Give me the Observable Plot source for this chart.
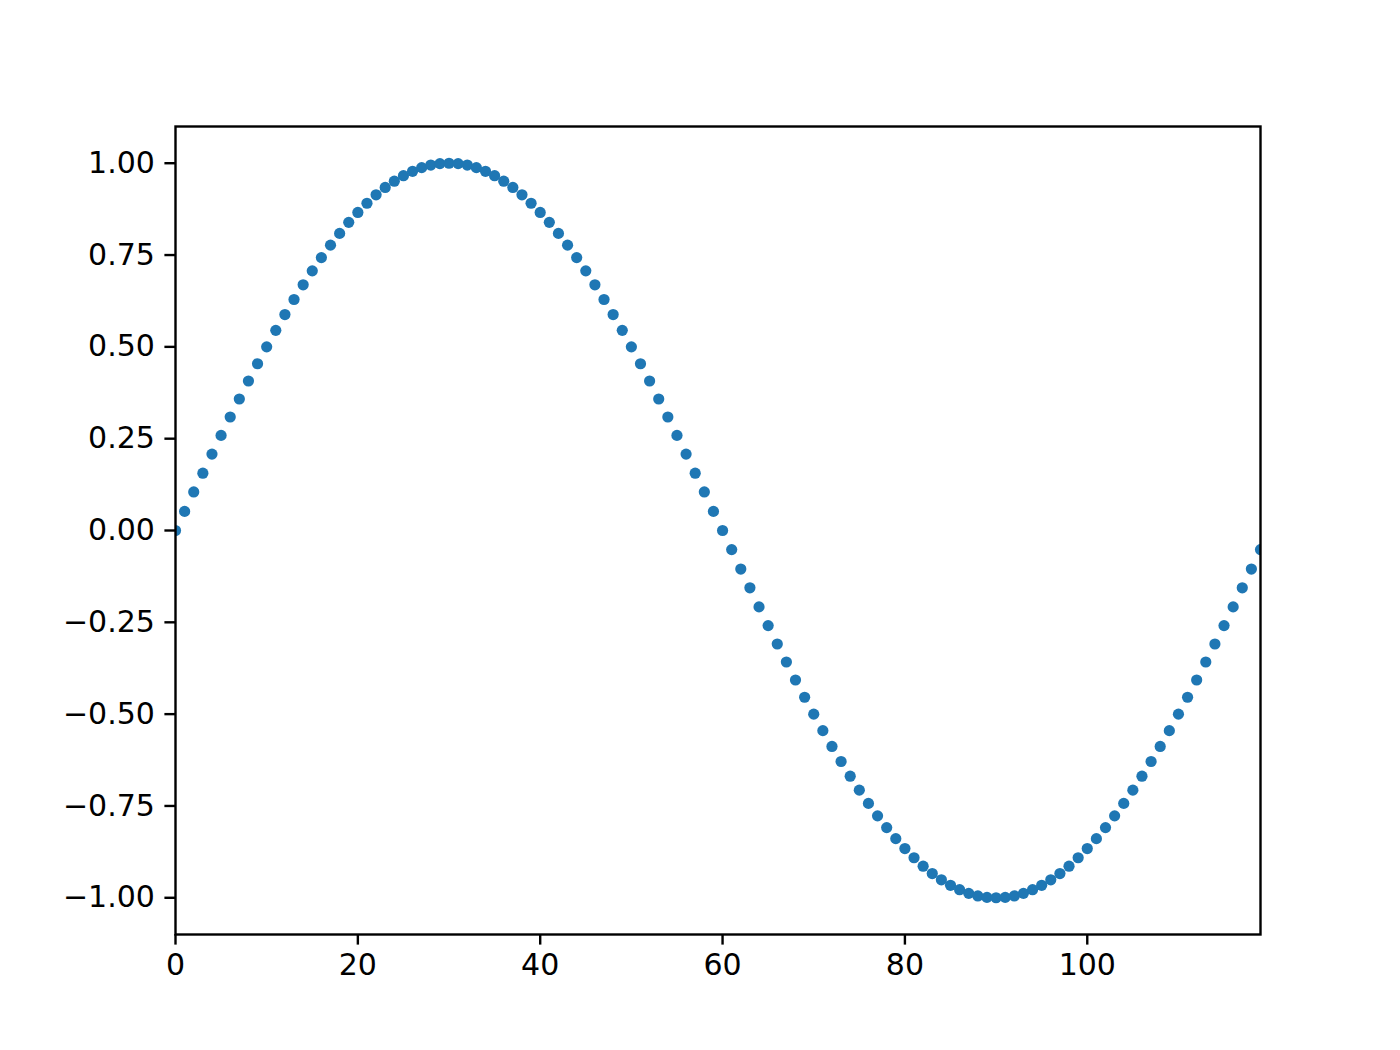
<!DOCTYPE html>
<html>
<head>
<meta charset="utf-8">
<script src="https://cdn.jsdelivr.net/npm/d3@7"></script>
<script src="https://cdn.jsdelivr.net/npm/@observablehq/plot@0.6"></script>
<style>
  html, body { margin: 0; padding: 0; background: #fff; }
  #chart svg { display: block; }
</style>
</head>
<body>
<div id="chart"></div>
<script>
const xValues = d3.range(0, 120);
const yValues = [
  0, 0.052, 0.105, 0.156, 0.208, 0.259, 0.309, 0.358, 0.407, 0.454,
  0.5, 0.545, 0.588, 0.629, 0.669, 0.707, 0.743, 0.777, 0.809, 0.839,
  0.866, 0.891, 0.914, 0.934, 0.951, 0.966, 0.978, 0.988, 0.995, 0.999,
  1, 0.999, 0.995, 0.988, 0.978, 0.966, 0.951, 0.934, 0.914, 0.891,
  0.866, 0.839, 0.809, 0.777, 0.743, 0.707, 0.669, 0.629, 0.588, 0.545,
  0.5, 0.454, 0.407, 0.358, 0.309, 0.259, 0.208, 0.156, 0.105, 0.052,
  0, -0.052, -0.105, -0.156, -0.208, -0.259, -0.309, -0.358, -0.407, -0.454,
  -0.5, -0.545, -0.588, -0.629, -0.669, -0.707, -0.743, -0.777, -0.809, -0.839,
  -0.866, -0.891, -0.914, -0.934, -0.951, -0.966, -0.978, -0.988, -0.995, -0.999,
  -1, -0.999, -0.995, -0.988, -0.978, -0.966, -0.951, -0.934, -0.914, -0.891,
  -0.866, -0.839, -0.809, -0.777, -0.743, -0.707, -0.669, -0.629, -0.588, -0.545,
  -0.5, -0.454, -0.407, -0.358, -0.309, -0.259, -0.208, -0.156, -0.105, -0.052
];
const xTicks = [0, 20, 40, 60, 80, 100];
const yTicks = [-1, -0.75, -0.5, -0.25, 0, 0.25, 0.5, 0.75, 1];

const data = xValues.map((x, i) => ({x, y: yValues[i]}));
const fmt = d3.format(".2f");

const chart = Plot.plot({
  width: 1400,
  height: 1050,
  marginLeft: 175,
  marginRight: 140,
  marginTop: 126,
  marginBottom: 116,
  style: {fontFamily: "DejaVu Sans", fontSize: "30px", color: "#000", background: "#fff"},
  x: {domain: [0, 119], label: null},
  y: {domain: [-1.1, 1.1], label: null},
  marks: [
    Plot.dot(data, {x: "x", y: "y", r: 5.6, fill: "#1f77b4", stroke: "none", clip: true}),
    Plot.frame({stroke: "#000", strokeWidth: 2.4}),
    Plot.axisX({ticks: xTicks, tickFormat: d => String(d), tickSize: 10.6, tickPadding: 9, strokeWidth: 2.4, fontSize: 30, label: null}),
    Plot.axisY({ticks: yTicks, tickFormat: d => fmt(d), tickSize: 10.6, tickPadding: 10, strokeWidth: 2.4, fontSize: 30, label: null})
  ]
});
document.getElementById("chart").appendChild(chart);
</script>
</body>
</html>
